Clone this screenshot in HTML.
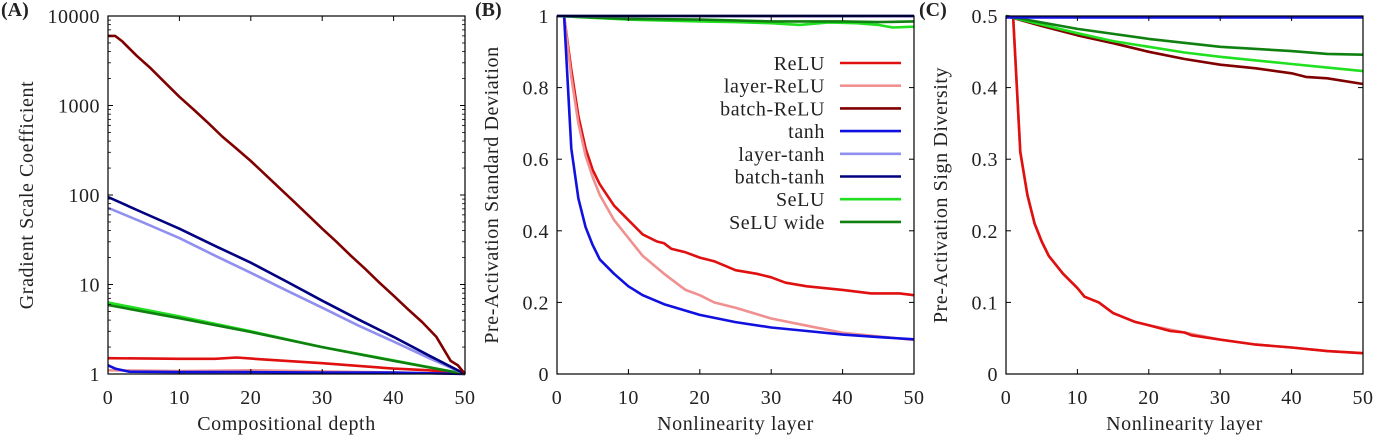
<!DOCTYPE html>
<html><head><meta charset="utf-8"><style>
html,body{margin:0;padding:0;background:#fff;}
svg{display:block;font-family:"Liberation Serif","DejaVu Serif",serif;}
svg text{font-family:"Liberation Serif","DejaVu Serif",serif;}
</style></head><body>
<svg id="fig" width="1377" height="441" viewBox="0 0 1377 441"></svg>
<script>
// ---- Data ----
const seriesNames = ["ReLU","layer-ReLU","batch-ReLU","tanh","layer-tanh","batch-tanh","SeLU","SeLU wide"];
const seriesColors = ["#e01010","#f09090","#800000","#1010e0","#9090f0","#000080","#20e020","#108010"];

// Panel A (log scale): [depth, value]
const aBatchReLU = [[0,6000],[1,6000],[2,5200],[4,3600],[6,2600],[8,1800],[10,1250],[12,900],[14,640],[16,450],[18,330],[20,240],[22,170],[24,120],[26,85],[28,60],[30,42],[32,30],[34,21],[36,15],[38,10.5],[40,7.5],[42,5.3],[44,3.8],[46,2.6],[48,1.4],[49,1.25],[50,1.0]];
const aBatchTanh = [[0,95],[5,63],[10,42],[15,27],[20,17.5],[25,10.8],[30,6.6],[35,4.1],[40,2.6],[45,1.6],[50,1.0]];
const aLayerTanh = [[0,72],[5,49],[10,33],[15,21],[20,13.5],[25,8.6],[30,5.5],[35,3.5],[40,2.3],[45,1.5],[50,1.0]];
const aSeLU = [[0,6.3],[10,4.4],[20,3.0],[30,2.0],[40,1.42],[50,1.0]];
const aSeLUWide = [[0,5.9],[10,4.2],[20,2.95],[30,2.0],[40,1.4],[50,1.0]];
const aReLU = [[0,1.5],[10,1.48],[15,1.48],[18,1.53],[22,1.45],[30,1.32],[40,1.15],[45,1.1],[50,1.0]];
const aLayerReLU = [[0,1.1],[10,1.08],[20,1.1],[30,1.07],[40,1.04],[50,1.0]];
const aTanh = [[0,1.25],[1,1.15],[3,1.06],[10,1.05],[20,1.05],[30,1.04],[40,1.04],[50,1.0]];
const aTicks = [1,10,100,1000,10000];
const aTickLabels = ["1","10","100","1000","10000"];

// Panel B
const bReLU = [[1,1],[2,0.85],[3,0.72],[4,0.63],[5,0.57],[6,0.53],[8,0.47],[10,0.43],[12,0.39],[14,0.37],[15,0.365],[16,0.35],[18,0.34],[20,0.325],[22,0.315],[25,0.29],[28,0.28],[30,0.27],[32,0.255],[35,0.245],[40,0.235],[44,0.225],[48,0.225],[50,0.22]];
const bLayerReLU = [[1,1],[2,0.83],[3,0.7],[4,0.61],[5,0.55],[6,0.5],[8,0.43],[10,0.38],[12,0.33],[15,0.28],[18,0.235],[20,0.22],[22,0.2],[25,0.185],[30,0.155],[35,0.135],[40,0.115],[45,0.105],[50,0.095]];
const bTanh = [[1,1],[2,0.63],[3,0.49],[4,0.41],[5,0.36],[6,0.32],[8,0.28],[10,0.245],[12,0.22],[15,0.195],[20,0.165],[25,0.145],[30,0.13],[35,0.12],[40,0.11],[45,0.103],[50,0.097]];
const bBatchReLU = [[0,1],[50,1]];
const bLayerTanh = [[0,1],[50,1]];
const bBatchTanh = [[0,1],[50,1]];
const bSeLU = [[0,1],[5,0.995],[10,0.99],[20,0.985],[25,0.983],[30,0.98],[34,0.975],[38,0.982],[42,0.98],[45,0.975],[47,0.968],[50,0.97]];
const bSeLUWide = [[0,1],[10,0.992],[20,0.99],[30,0.985],[40,0.985],[45,0.983],[50,0.985]];
const bTicks = [0,0.2,0.4,0.6,0.8,1];
const bTickLabels = ["0","0.2","0.4","0.6","0.8","1"];

// Panel C
const cReLU = [[1,0.5],[2,0.31],[3,0.25],[4,0.21],[5,0.185],[6,0.165],[8,0.14],[10,0.12],[11,0.108],[13,0.1],[15,0.085],[18,0.073],[20,0.068],[23,0.06],[25,0.058],[26,0.054],[30,0.048],[35,0.041],[40,0.037],[45,0.032],[50,0.029]];
const cLayerReLU = [[1,0.5],[2,0.31],[3,0.25],[4,0.21],[5,0.185],[6,0.165],[8,0.14],[10,0.12],[11,0.108],[13,0.1],[15,0.085],[18,0.073],[20,0.068],[25,0.058],[30,0.048],[35,0.041],[40,0.037],[45,0.032],[50,0.029]];
const cBatchReLU = [[0,0.5],[5,0.486],[10,0.473],[15,0.462],[20,0.45],[25,0.44],[30,0.432],[35,0.427],[40,0.42],[42,0.415],[45,0.413],[50,0.405]];
const cSeLU = [[0,0.5],[5,0.488],[10,0.476],[15,0.465],[20,0.457],[25,0.449],[30,0.443],[35,0.438],[40,0.433],[45,0.428],[50,0.423]];
const cSeLUWide = [[0,0.5],[10,0.482],[20,0.468],[30,0.457],[40,0.451],[45,0.447],[50,0.446]];
const cTanh = [[0,0.498],[50,0.498]];
const cTicks = [0,0.1,0.2,0.3,0.4,0.5];
const cTickLabels = ["0","0.1","0.2","0.3","0.4","0.5"];
const xTicks = [0,10,20,30,40,50];
const xTickLabels = ["0","10","20","30","40","50"];

// ---- Drawing ----
const svg = document.getElementById('fig');
const NS = "http://www.w3.org/2000/svg";
function mk(tag, attrs, parent){const e=document.createElementNS(NS,tag);for(const k in attrs)e.setAttribute(k,attrs[k]);(parent||svg).appendChild(e);return e;}
const FS = 20, LS = 0.6;

function panel(opt){
  const g = mk('g',{});
  
  
  const L=opt.x0,R=opt.x1,T=16,B=374;
  const xs = v => L + (v/50)*(R-L);
  const ys = opt.ys(T,B);
  opt.series.forEach(s=>{
    const d = s.data.map((p,i)=>(i?'L':'M')+xs(p[0]).toFixed(1)+','+ys(p[1]).toFixed(1)).join(' ');
    const p = mk('path',{d:d,fill:'none',stroke:s.color,'stroke-width':2.6,'stroke-linejoin':'round'},g);
    
    
  });
  const fr = mk('rect',{x:L,y:T,width:R-L,height:B-T,fill:'none',stroke:'#000','stroke-width':1.2},g);
  
  
  xTicks.forEach((v,i)=>{
    const x=xs(v);
    mk('line',{x1:x,y1:B,x2:x,y2:B-5,stroke:'#000','stroke-width':1},g);
    mk('line',{x1:x,y1:T,x2:x,y2:T+5,stroke:'#000','stroke-width':1},g);
    const t=mk('text',{x:x,y:B+30,'text-anchor':'middle','font-size':FS,'letter-spacing':0.5,fill:'#222'},g);
    t.textContent=xTickLabels[i];
    
    
  });
  opt.yTicks.forEach((v,i)=>{
    const y=ys(v);
    mk('line',{x1:L,y1:y,x2:L+5,y2:y,stroke:'#000','stroke-width':1},g);
    mk('line',{x1:R,y1:y,x2:R-5,y2:y,stroke:'#000','stroke-width':1},g);
    const t=mk('text',{x:L-8,y:y+7,'text-anchor':'end','font-size':FS,'letter-spacing':0.5,fill:'#222'},g);
    t.textContent=opt.yLabels[i];
    
    
  });
  if(opt.minor){
    for(let dec=1;dec<10000;dec*=10){for(let m=2;m<10;m++){const y=ys(dec*m);
      mk('line',{x1:L,y1:y,x2:L+3,y2:y,stroke:'#000','stroke-width':0.8},g);
      mk('line',{x1:R,y1:y,x2:R-3,y2:y,stroke:'#000','stroke-width':0.8},g);}}
  }
  const xt=mk('text',{x:(L+R)/2,y:430,'text-anchor':'middle','font-size':FS,'letter-spacing':LS,fill:'#222'},g);
  xt.textContent=opt.xTitle;
  
  
  const yt=mk('text',{x:0,y:0,'text-anchor':'middle','font-size':FS,'letter-spacing':LS,fill:'#222',transform:`translate(${opt.yTitleX},${(T+B)/2}) rotate(-90)`},g);
  yt.textContent=opt.yTitle;
  
  
  const pl=mk('text',{x:opt.labelX,y:16,'font-size':FS,'font-weight':'bold',fill:'#222'},g);
  pl.textContent=opt.label;
  
  
  return {g,xs,ys};
}
const C = seriesColors;
panel({name:'panel-a',x0:108,x1:465,label:'(A)',labelX:1,
  ys:(T,B)=>v=>B-(Math.log10(v)/4)*(B-T),yTicks:aTicks,yLabels:aTickLabels,minor:true,
  xTitle:'Compositional depth',yTitle:'Gradient Scale Coefficient',yTitleX:33,
  series:[{key:'series-layer-relu',data:aLayerReLU,color:C[1]},{key:'series-relu',data:aReLU,color:C[0]},
    {key:'series-tanh',data:aTanh,color:C[3]},{key:'series-selu',data:aSeLU,color:C[6]},{key:'series-selu-wide',data:aSeLUWide,color:C[7]},
    {key:'series-layer-tanh',data:aLayerTanh,color:C[4]},{key:'series-batch-tanh',data:aBatchTanh,color:C[5]},{key:'series-batch-relu',data:aBatchReLU,color:C[2]}]});
panel({name:'panel-b',x0:557,x1:914,label:'(B)',labelX:475,
  ys:(T,B)=>v=>B-v*(B-T),yTicks:bTicks,yLabels:bTickLabels,
  xTitle:'Nonlinearity layer',yTitle:'Pre-Activation Standard Deviation',yTitleX:498,
  series:[{key:'series-relu',data:bReLU,color:C[0]},{key:'series-layer-relu',data:bLayerReLU,color:C[1]},{key:'series-tanh',data:bTanh,color:C[3]},
    {key:'series-selu',data:bSeLU,color:C[6]},{key:'series-selu-wide',data:bSeLUWide,color:C[7]},
    {key:'series-batch-relu',data:bBatchReLU,color:C[2]},{key:'series-layer-tanh',data:bLayerTanh,color:C[4]},{key:'series-batch-tanh',data:bBatchTanh,color:C[5]}]});
panel({name:'panel-c',x0:1006,x1:1363,label:'(C)',labelX:919,
  ys:(T,B)=>v=>B-(v/0.5)*(B-T),yTicks:cTicks,yLabels:cTickLabels,
  xTitle:'Nonlinearity layer',yTitle:'Pre-Activation Sign Diversity',yTitleX:947,
  series:[{key:'series-layer-relu',data:cLayerReLU,color:C[1]},{key:'series-relu',data:cReLU,color:C[0]},
    {key:'series-batch-relu',data:cBatchReLU,color:C[2]},{key:'series-selu',data:cSeLU,color:C[6]},{key:'series-selu-wide',data:cSeLUWide,color:C[7]},
    {key:'series-tanh',data:cTanh,color:C[3]}]});
const lg = mk('g',{});


seriesNames.forEach((n,i)=>{
  const y = 63 + i*22.7;
  const e = mk('g',{},lg);
  
  
  const t = mk('text',{x:825,y:y+7,'text-anchor':'end','font-size':FS,'letter-spacing':LS,fill:'#222'},e);
  t.textContent = n;
  mk('line',{x1:840,y1:y,x2:901,y2:y,stroke:seriesColors[i],'stroke-width':2.6},e);
});
</script>
</body></html>
